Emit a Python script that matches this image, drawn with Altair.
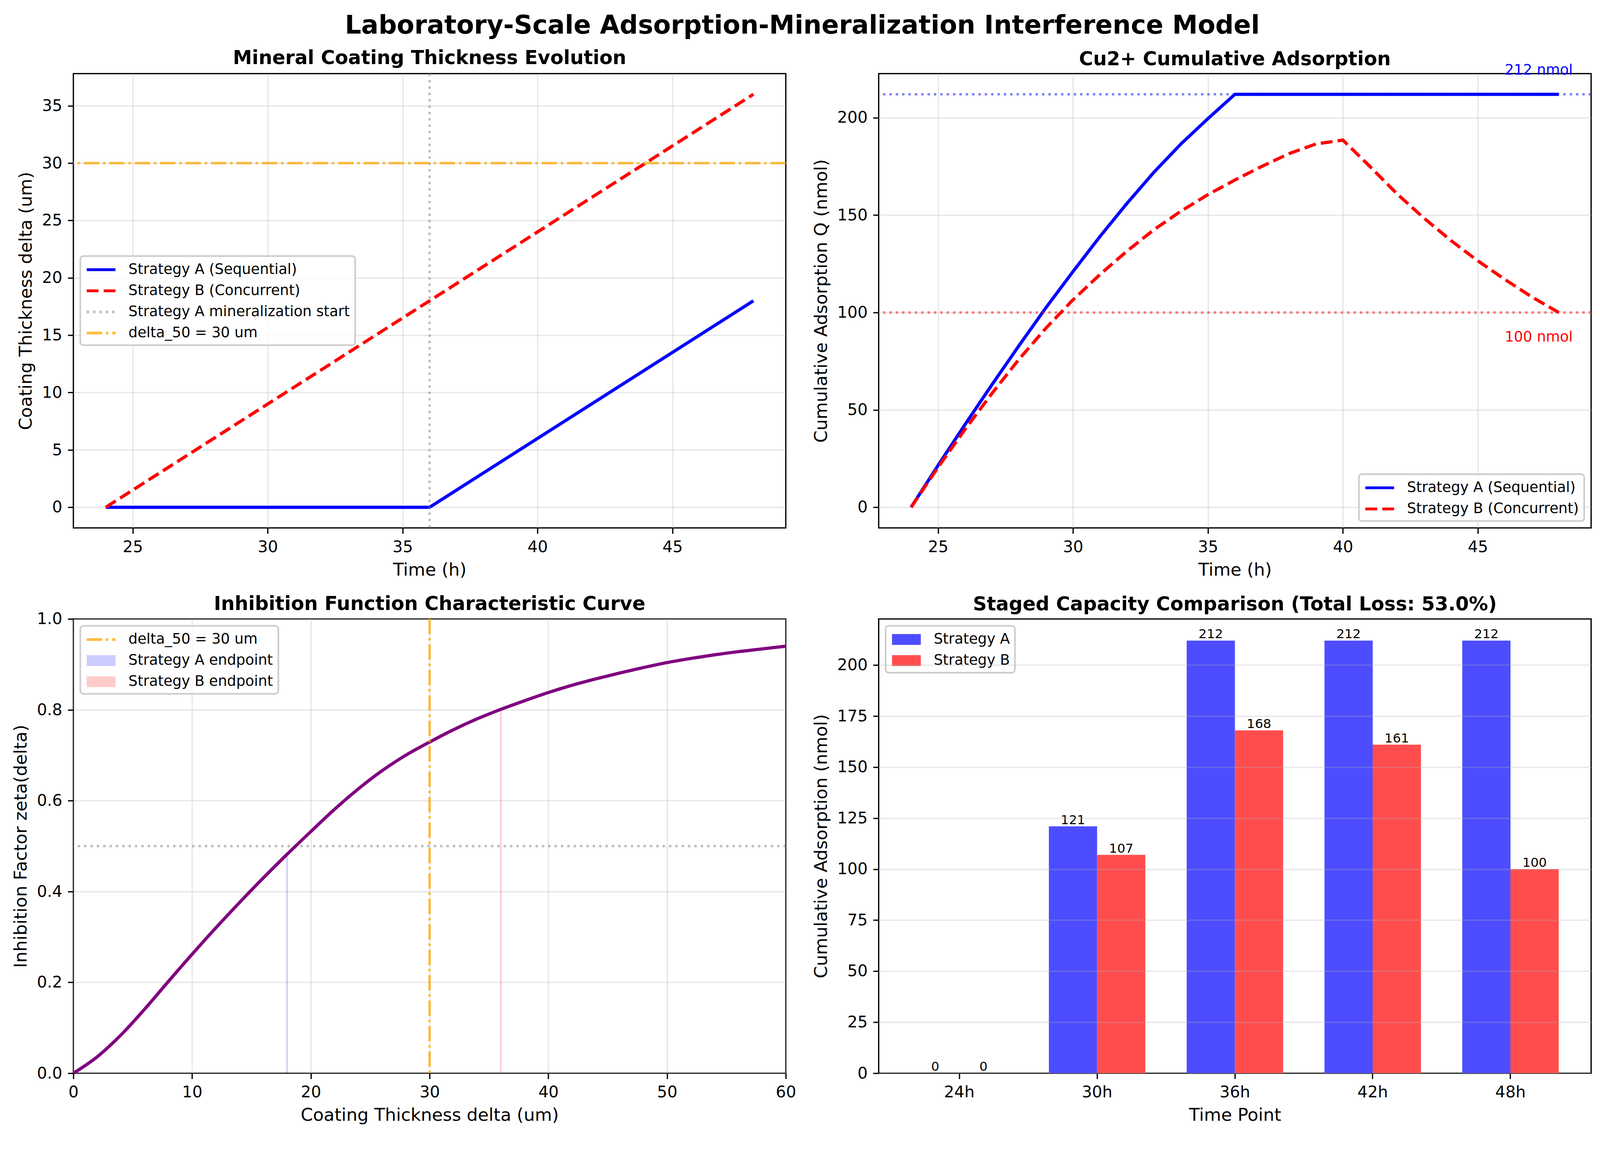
import altair as alt
import pandas as pd

# ---------------- data ----------------
# Panel 1: coating thickness
thick_time_A = [24, 36, 48]
thick_delta_A = [0, 0, 18]
thick_time_B = [24, 48]
thick_delta_B = [0, 36]
mineral_start_time = [36]
delta50_level = [30]

# Panel 2: cumulative adsorption
ads_time_A = [24, 25, 26, 27, 28, 29, 30, 31, 32, 33, 34, 35, 36, 48]
ads_Q_A = [0, 21.5, 42.5, 63, 83, 102.5, 121, 139, 156, 172, 186.5, 199.5, 212, 212]
ads_time_B = [24, 25, 26, 27, 28, 29, 30, 31, 32, 33, 34, 35, 36, 37, 38, 39, 40,
              41, 42, 43, 44, 45, 46, 47, 48]
ads_Q_B = [0, 20.5, 40, 58.5, 76, 92, 106.5, 119.5, 131.5, 142.5, 152, 160.5, 168,
           175, 181.5, 186.5, 188.5, 175, 161, 148.5, 137, 126.5, 117, 108, 100]
ref_levels = [212, 100]
ref_labels = ["212 nmol", "100 nmol"]
ref_label_time = [46, 46]
ref_label_y = [222, 85]

# Panel 3: inhibition function
zeta_delta = [0, 2, 4, 6, 8, 10, 12, 14, 16, 18, 20, 22, 24, 26, 28, 30, 32, 34, 36,
              38, 40, 42, 44, 46, 48, 50, 52, 54, 56, 58, 60]
zeta_vals = [0.000, 0.036, 0.084, 0.141, 0.202, 0.262, 0.320, 0.376, 0.430, 0.482,
             0.532, 0.581, 0.626, 0.666, 0.700, 0.729, 0.756, 0.780, 0.801, 0.820,
             0.838, 0.854, 0.868, 0.881, 0.893, 0.904, 0.913, 0.921, 0.928, 0.934, 0.940]
endpoint_delta = [18, 36]
endpoint_zeta = [0.482, 0.801]
half_level = [0.5]

# Panel 4: staged capacity
time_points = ["24h", "30h", "36h", "42h", "48h"]
cap_A = [0, 121, 212, 212, 212]
cap_B = [0, 107, 168, 161, 100]

# ---------------- style ----------------
PT = 300 / 72
W, H = 1856, 1183
FS_TICK = 10 * PT
FS_LAB = 11 * PT
FS_TITLE = 12 * PT
FS_SUP = 16 * PT
FS_LEG = 9 * PT
FS_BAR = 8 * PT
LW = 2 * PT
LW_REF = 1.5 * PT
FONT = "DejaVu Sans"

DASH_SOLID = [1, 0]
DASH_DASHED = [3.7 * LW, 1.6 * LW]
DASH_DOT = [1 * LW_REF, 1.65 * LW_REF]
DASH_DASHDOT = [6.4 * LW_REF, 1.6 * LW_REF, 1 * LW_REF, 1.6 * LW_REF]

# legend handles: symbol size 37.5 px -> 18.75 px per path unit, handle spans 0..75 px
SYM_SIZE = 37.5 * 37.5
LINE_PATH = "M-1,0H3"
RECT_PATH = "M-1,-0.75H3V0.75H-1Z"
DASHDOT_PATH = ("M-1,-0.19H1.133V0.19H-1Z M1.667,-0.19H2V0.19H1.667Z "
                "M2.533,-0.19H3V0.19H2.533Z")

GRAY_A = "rgba(128,128,128,0.5)"
ORANGE_A = "rgba(255,165,0,0.75)"


def sub_title(text, offset=12):
    return alt.TitleParams(text, frame="group", anchor="middle", fontSize=FS_TITLE,
                           fontWeight="bold", font=FONT, offset=offset, color="black")


# ---------------- panel 1 ----------------
S1 = "Strategy A (Sequential)"
S2 = "Strategy B (Concurrent)"
S3 = "Strategy A mineralization start"
S4 = "delta_50 = 30 um"
dom1 = [S1, S2, S3, S4]

df1 = pd.DataFrame({
    "time": thick_time_A + thick_time_B,
    "delta": thick_delta_A + thick_delta_B,
    "series": [S1] * len(thick_time_A) + [S2] * len(thick_time_B),
})
df1v = pd.DataFrame({"time": mineral_start_time, "series": [S3]})
df1h = pd.DataFrame({"delta": delta50_level, "series": [S4]})

xs_t = alt.Scale(domain=[22.8, 49.2], nice=False, zero=False)
ys1 = alt.Scale(domain=[-1.8, 37.8], nice=False, zero=False)
leg1 = alt.Legend(orient="none", legendX=18, legendY=475, title=None, symbolType=LINE_PATH)
col1 = alt.Color("series:N", scale=alt.Scale(domain=dom1, range=["#0000ff", "#ff0000", GRAY_A, ORANGE_A]), legend=leg1)
dash1 = alt.StrokeDash("series:N", scale=alt.Scale(domain=dom1, range=[DASH_SOLID, DASH_DASHED, DASH_DOT, DASH_DASHDOT]), legend=leg1)
x1 = alt.X("time:Q", scale=xs_t, axis=alt.Axis(values=[25, 30, 35, 40, 45]), title="Time (h)")
y1 = alt.Y("delta:Q", scale=ys1, axis=alt.Axis(values=[0, 5, 10, 15, 20, 25, 30, 35]), title="Coating Thickness delta (um)")

p1 = alt.layer(
    alt.Chart(df1).mark_line(strokeWidth=LW).encode(x=x1, y=y1, color=col1, strokeDash=dash1),
    alt.Chart(df1v).mark_rule(strokeWidth=LW_REF).encode(x=x1, color=col1, strokeDash=dash1),
    alt.Chart(df1h).mark_rule(strokeWidth=LW_REF).encode(y=y1, color=col1, strokeDash=dash1),
).properties(width=W, height=H, title=sub_title("Mineral Coating Thickness Evolution"))

# ---------------- panel 2 ----------------
dom2 = [S1, S2]
df2 = pd.DataFrame({
    "time": ads_time_A + ads_time_B,
    "Q": ads_Q_A + ads_Q_B,
    "series": [S1] * len(ads_time_A) + [S2] * len(ads_time_B),
})
ys2 = alt.Scale(domain=[-10.6, 222.6], nice=False, zero=False)
leg2 = alt.Legend(orient="bottom-right", title=None, symbolType=LINE_PATH)
col2 = alt.Color("series:N", scale=alt.Scale(domain=dom2, range=["#0000ff", "#ff0000"]), legend=leg2)
dash2 = alt.StrokeDash("series:N", scale=alt.Scale(domain=dom2, range=[DASH_SOLID, DASH_DASHED]), legend=leg2)
x2 = alt.X("time:Q", scale=xs_t, axis=alt.Axis(values=[25, 30, 35, 40, 45]), title="Time (h)")
y2 = alt.Y("Q:Q", scale=ys2, axis=alt.Axis(values=[0, 50, 100, 150, 200]), title="Cumulative Adsorption Q (nmol)")

df2r1 = pd.DataFrame({"Q": [ref_levels[0]]})
df2r2 = pd.DataFrame({"Q": [ref_levels[1]]})
df2t1 = pd.DataFrame({"time": [ref_label_time[0]], "Q": [ref_label_y[0]], "lab": [ref_labels[0]]})
df2t2 = pd.DataFrame({"time": [ref_label_time[1]], "Q": [ref_label_y[1]], "lab": [ref_labels[1]]})

p2 = alt.layer(
    alt.Chart(df2).mark_line(strokeWidth=LW).encode(x=x2, y=y2, color=col2, strokeDash=dash2),
    alt.Chart(df2r1).mark_rule(strokeWidth=LW_REF, color="rgba(0,0,255,0.5)", strokeDash=DASH_DOT).encode(y=y2),
    alt.Chart(df2r2).mark_rule(strokeWidth=LW_REF, color="rgba(255,0,0,0.5)", strokeDash=DASH_DOT).encode(y=y2),
    alt.Chart(df2t1).mark_text(color="blue", fontSize=FS_LEG, font=FONT, align="left", baseline="alphabetic").encode(x=x2, y=y2, text="lab:N"),
    alt.Chart(df2t2).mark_text(color="red", fontSize=FS_LEG, font=FONT, align="left", baseline="alphabetic").encode(x=x2, y=y2, text="lab:N"),
).properties(width=W, height=H, title=sub_title("Cu2+ Cumulative Adsorption", offset=-15))

# ---------------- panel 3 ----------------
L1 = "delta_50 = 30 um"
L2 = "Strategy A endpoint"
L3 = "Strategy B endpoint"
dom3 = [L1, L2, L3]
df3 = pd.DataFrame({"d": zeta_delta, "z": zeta_vals})
xs3 = alt.Scale(domain=[0, 60], nice=False, zero=False)
ys3 = alt.Scale(domain=[0, 1], nice=False, zero=False)
x3 = alt.X("d:Q", scale=xs3, axis=alt.Axis(values=[0, 10, 20, 30, 40, 50, 60]), title="Coating Thickness delta (um)")
y3 = alt.Y("z:Q", scale=ys3, axis=alt.Axis(values=[0, 0.2, 0.4, 0.6, 0.8, 1.0], format=".1f"), title="Inhibition Factor zeta(delta)")

df3v = pd.DataFrame({"d": delta50_level})
df3h = pd.DataFrame({"z": half_level})
df3a = pd.DataFrame({"d": [endpoint_delta[0]], "z0": [0], "z": [endpoint_zeta[0]]})
df3b = pd.DataFrame({"d": [endpoint_delta[1]], "z0": [0], "z": [endpoint_zeta[1]]})
# legend-only helper rows (placed outside the clipped plot area)
df3leg = pd.DataFrame({"d": [delta50_level[0]] + endpoint_delta, "z": [-1, -1, -1], "item": dom3})
leg3 = alt.Legend(orient="top-left", title=None)

p3 = alt.layer(
    alt.Chart(df3a).mark_rule(strokeWidth=PT, color="rgba(0,0,255,0.2)").encode(x=x3, y=alt.Y("z0:Q", scale=ys3), y2="z:Q"),
    alt.Chart(df3b).mark_rule(strokeWidth=PT, color="rgba(255,0,0,0.2)").encode(x=x3, y=alt.Y("z0:Q", scale=ys3), y2="z:Q"),
    alt.Chart(df3h).mark_rule(strokeWidth=LW_REF, color=GRAY_A, strokeDash=DASH_DOT).encode(y=y3),
    alt.Chart(df3).mark_line(strokeWidth=LW, color="purple", interpolate="monotone").encode(x=x3, y=y3),
    alt.Chart(df3v).mark_rule(strokeWidth=LW_REF, color=ORANGE_A, strokeDash=DASH_DASHDOT).encode(x=x3),
    alt.Chart(df3leg).mark_point(filled=True, clip=True, opacity=1).encode(
        x=x3, y=y3,
        color=alt.Color("item:N", scale=alt.Scale(domain=dom3, range=[ORANGE_A, "#ccccff", "#ffcccc"]), legend=leg3),
        shape=alt.Shape("item:N", scale=alt.Scale(domain=dom3, range=[DASHDOT_PATH, RECT_PATH, RECT_PATH]), legend=leg3),
    ),
).properties(width=W, height=H, title=sub_title("Inhibition Function Characteristic Curve", offset=-7))

# ---------------- panel 4 ----------------
SA, SB = "Strategy A", "Strategy B"
df4 = pd.DataFrame({
    "tp": time_points + time_points,
    "strategy": [SA] * len(time_points) + [SB] * len(time_points),
    "value": cap_A + cap_B,
})
x4 = alt.X("tp:N", sort=time_points, scale=alt.Scale(paddingInner=0.3, paddingOuter=0.235),
           axis=alt.Axis(labelAngle=0, grid=False), title="Time Point")
xo4 = alt.XOffset("strategy:N", sort=[SA, SB], scale=alt.Scale(paddingInner=0, paddingOuter=0))
y4 = alt.Y("value:Q", scale=alt.Scale(domain=[0, 222.6], nice=False, zero=False),
           axis=alt.Axis(values=[0, 25, 50, 75, 100, 125, 150, 175, 200], zindex=1),
           title="Cumulative Adsorption (nmol)")
col4 = alt.Color("strategy:N", scale=alt.Scale(domain=[SA, SB], range=["#4d4dff", "#ff4d4d"]),
                 legend=alt.Legend(orient="top-left", title=None, symbolType=RECT_PATH))

p4 = alt.layer(
    alt.Chart(df4).mark_bar().encode(x=x4, xOffset=xo4, y=y4, color=col4),
    alt.Chart(df4).mark_text(fontSize=FS_BAR, font=FONT, color="black", baseline="alphabetic", dy=-6).encode(
        x=x4, xOffset=xo4, y=y4, text=alt.Text("value:Q", format=".0f")),
).properties(width=W, height=H, title=sub_title("Staged Capacity Comparison (Total Loss: 53.0%)"))

# ---------------- assemble ----------------
grid = alt.concat(p1, p2, p3, p4, columns=2, spacing={"row": 237, "column": 242}, bounds="flush")
grid = grid.resolve_scale(x="independent", y="independent", color="independent",
                          strokeDash="independent", shape="independent")
grid = grid.resolve_legend(color="independent", strokeDash="independent", shape="independent")

chart = grid.properties(
    title=alt.TitleParams("Laboratory-Scale Adsorption-Mineralization Interference Model",
                          fontSize=FS_SUP, fontWeight="bold", font=FONT, anchor="middle",
                          frame="bounds", offset=24, color="black"),
    padding={"left": 22, "top": 0, "right": 10, "bottom": 10},
).configure(font=FONT, background="white").configure_axis(
    labelFont=FONT, labelFontSize=FS_TICK, labelColor="black",
    titleFont=FONT, titleFontSize=FS_LAB, titleFontWeight="normal", titleColor="black",
    tickSize=3.5 * PT, tickWidth=0.8 * PT, tickColor="black",
    labelPadding=3.5 * PT, titlePadding=4 * PT,
    domain=False, gridColor="#b0b0b0", gridOpacity=0.3, gridWidth=0.8 * PT,
    labelFlush=False, labelOverlap=False,
).configure_view(stroke="black", strokeWidth=0.8 * PT).configure_legend(
    labelFont=FONT, labelFontSize=FS_LEG, labelColor="black", labelLimit=0,
    strokeColor="#cccccc", strokeWidth=PT, fillColor="rgba(255,255,255,0.8)",
    cornerRadius=8, padding=13, rowPadding=14, labelOffset=67.5,
    symbolSize=SYM_SIZE, symbolStrokeWidth=7.3, offset=18,
)

chart.save("out.html", embed_options={"renderer": "svg", "actions": False})
